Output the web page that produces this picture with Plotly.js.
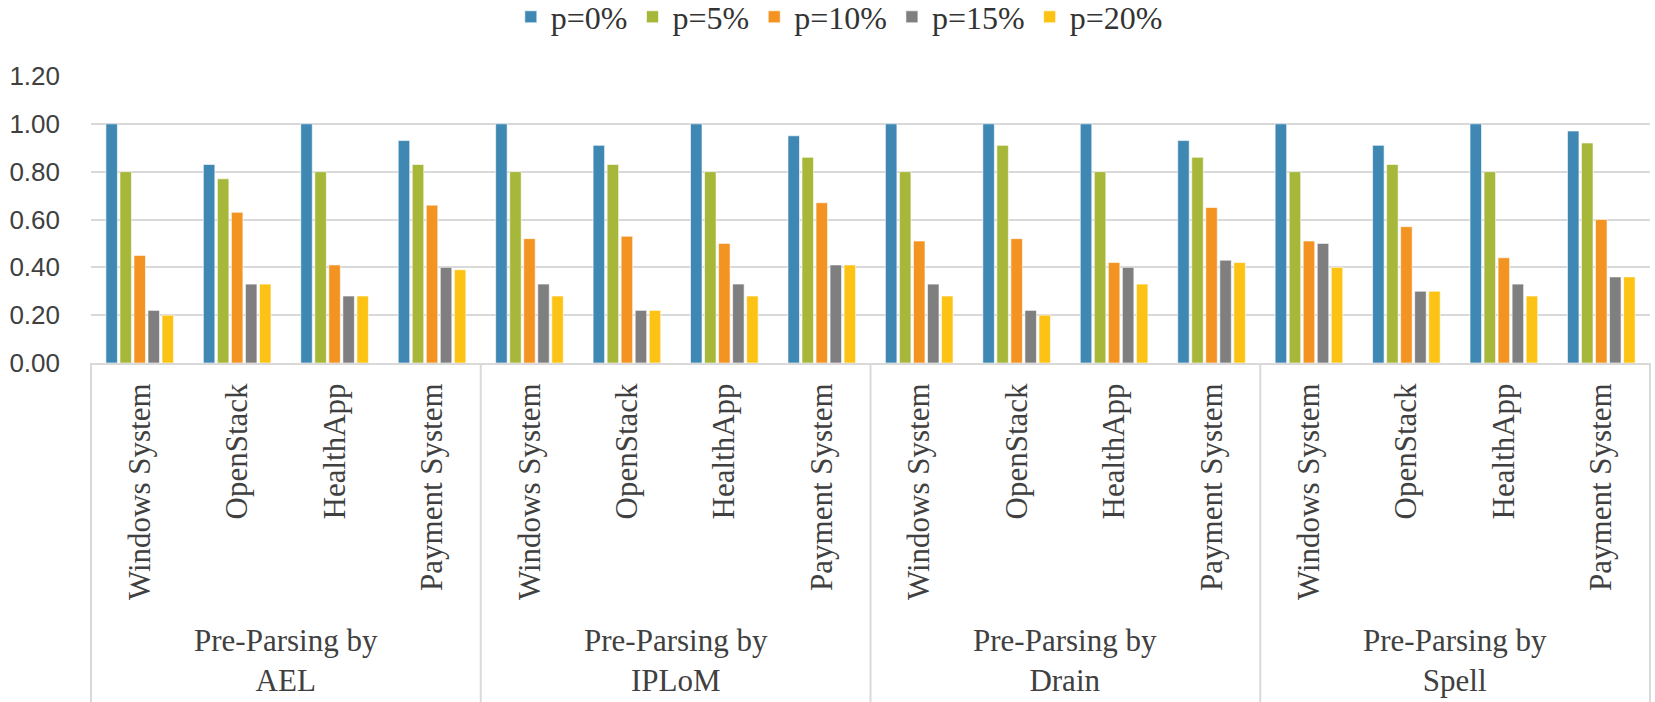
<!DOCTYPE html>
<html>
<head>
<meta charset="utf-8">
<script src="https://cdn.plot.ly/plotly-3.0.1.min.js"></script>
<style>
  html, body { margin: 0; padding: 0; background: #fff; }
  #chart { width: 1655px; height: 702px; }
</style>
</head>
<body>
<div id="chart"></div>
<script>
// systems on the x axis, repeated for each pre-parsing method
var systems = ['Windows System', 'OpenStack', 'HealthApp', 'Payment System'];
var parsers = ['AEL', 'IPLoM', 'Drain', 'Spell'];
var seriesNames = ['p=0%', 'p=5%', 'p=10%', 'p=15%', 'p=20%'];
var yTicks = [0, 0.2, 0.4, 0.6, 0.8, 1.0, 1.2];

// values read per bar, order: AEL(4), IPLoM(4), Drain(4), Spell(4)
var p0  = [1.00, 0.83, 1.00, 0.93,  1.00, 0.91, 1.00, 0.95,  1.00, 1.00, 1.00, 0.93,  1.00, 0.91, 1.00, 0.97];
var p5  = [0.80, 0.77, 0.80, 0.83,  0.80, 0.83, 0.80, 0.86,  0.80, 0.91, 0.80, 0.86,  0.80, 0.83, 0.80, 0.92];
var p10 = [0.45, 0.63, 0.41, 0.66,  0.52, 0.53, 0.50, 0.67,  0.51, 0.52, 0.42, 0.65,  0.51, 0.57, 0.44, 0.60];
var p15 = [0.22, 0.33, 0.28, 0.40,  0.33, 0.22, 0.33, 0.41,  0.33, 0.22, 0.40, 0.43,  0.50, 0.30, 0.33, 0.36];
var p20 = [0.20, 0.33, 0.28, 0.39,  0.28, 0.22, 0.28, 0.41,  0.28, 0.20, 0.33, 0.42,  0.40, 0.30, 0.28, 0.36];

var colors = ['#3f88b4', '#a6b73a', '#f39322', '#7f7f7f', '#fcc315'];

var xIdx = [];
var xText = [];
parsers.forEach(function(p, g) {
    systems.forEach(function(s, i) {
        xIdx.push(g * systems.length + i);
        xText.push(s);
    });
});

var allVals = [p0, p5, p10, p15, p20];
var traces = allVals.map(function(v, k) {
    return {
        type: 'bar',
        name: seriesNames[k],
        x: xIdx,
        y: v,
        marker: {color: colors[k], line: {color: 'rgba(255,255,255,0.6)', width: 1}},
        hoverinfo: 'x+y'
    };
});

var serif = 'Liberation Serif, Times New Roman, serif';
var nCat = xIdx.length;
var plotH = 702 - 76 - 339;

var shapes = [];
for (var g = 0; g <= parsers.length; g++) {
    shapes.push({
        type: 'line', xref: 'paper', yref: 'paper',
        x0: g * systems.length / nCat, x1: g * systems.length / nCat,
        y0: 0, y1: -339 / plotH,
        line: {color: '#d9d9d9', width: 2}
    });
}

// group labels under each block of four systems
var annotations = parsers.map(function(p, g) {
    return {
        xref: 'paper', yref: 'paper',
        x: (g * systems.length + systems.length / 2) / nCat,
        y: -(660 - 363) / plotH,
        yanchor: 'middle', xanchor: 'center',
        text: 'Pre-Parsing by<br>' + p,
        showarrow: false,
        font: {family: serif, size: 31, color: '#404040'}
    };
});

var layout = {
    width: 1655,
    height: 702,
    margin: {l: 91, r: 5, t: 76, b: 339, autoexpand: false},
    paper_bgcolor: '#fff',
    plot_bgcolor: '#fff',
    barmode: 'group',
    bargap: 0.28,
    bargroupgap: 0.18,
    showlegend: true,
    legend: {
        orientation: 'h',
        x: 0.48, xanchor: 'center',
        y: 1 + (76 - 17) / plotH, yanchor: 'middle',
        font: {family: serif, size: 32, color: '#333'},
        itemwidth: 30,
        traceorder: 'normal'
    },
    xaxis: {
        range: [-0.5, nCat - 0.5],
        tickmode: 'array',
        tickvals: xIdx,
        ticktext: xText,
        tickangle: -90,
        ticks: '',
        ticklabelstandoff: 6,
        tickfont: {family: serif, size: 31, color: '#404040'},
        showgrid: false,
        showline: true,
        linecolor: '#d9d9d9',
        linewidth: 2,
        zeroline: false
    },
    yaxis: {
        range: [0, 1.2],
        tickmode: 'array',
        tickvals: yTicks,
        tickformat: '.2f',
        ticks: '',
        ticklabelstandoff: 30,
        tickfont: {family: 'Liberation Sans, Arial, sans-serif', size: 26, color: '#404040'},
        showgrid: true,
        gridcolor: '#d9d9d9',
        gridwidth: 2,
        zeroline: false,
        showline: false
    },
    shapes: shapes,
    annotations: annotations
};

Plotly.newPlot('chart', traces, layout, {displayModeBar: false, staticPlot: true});
</script>
</body>
</html>
